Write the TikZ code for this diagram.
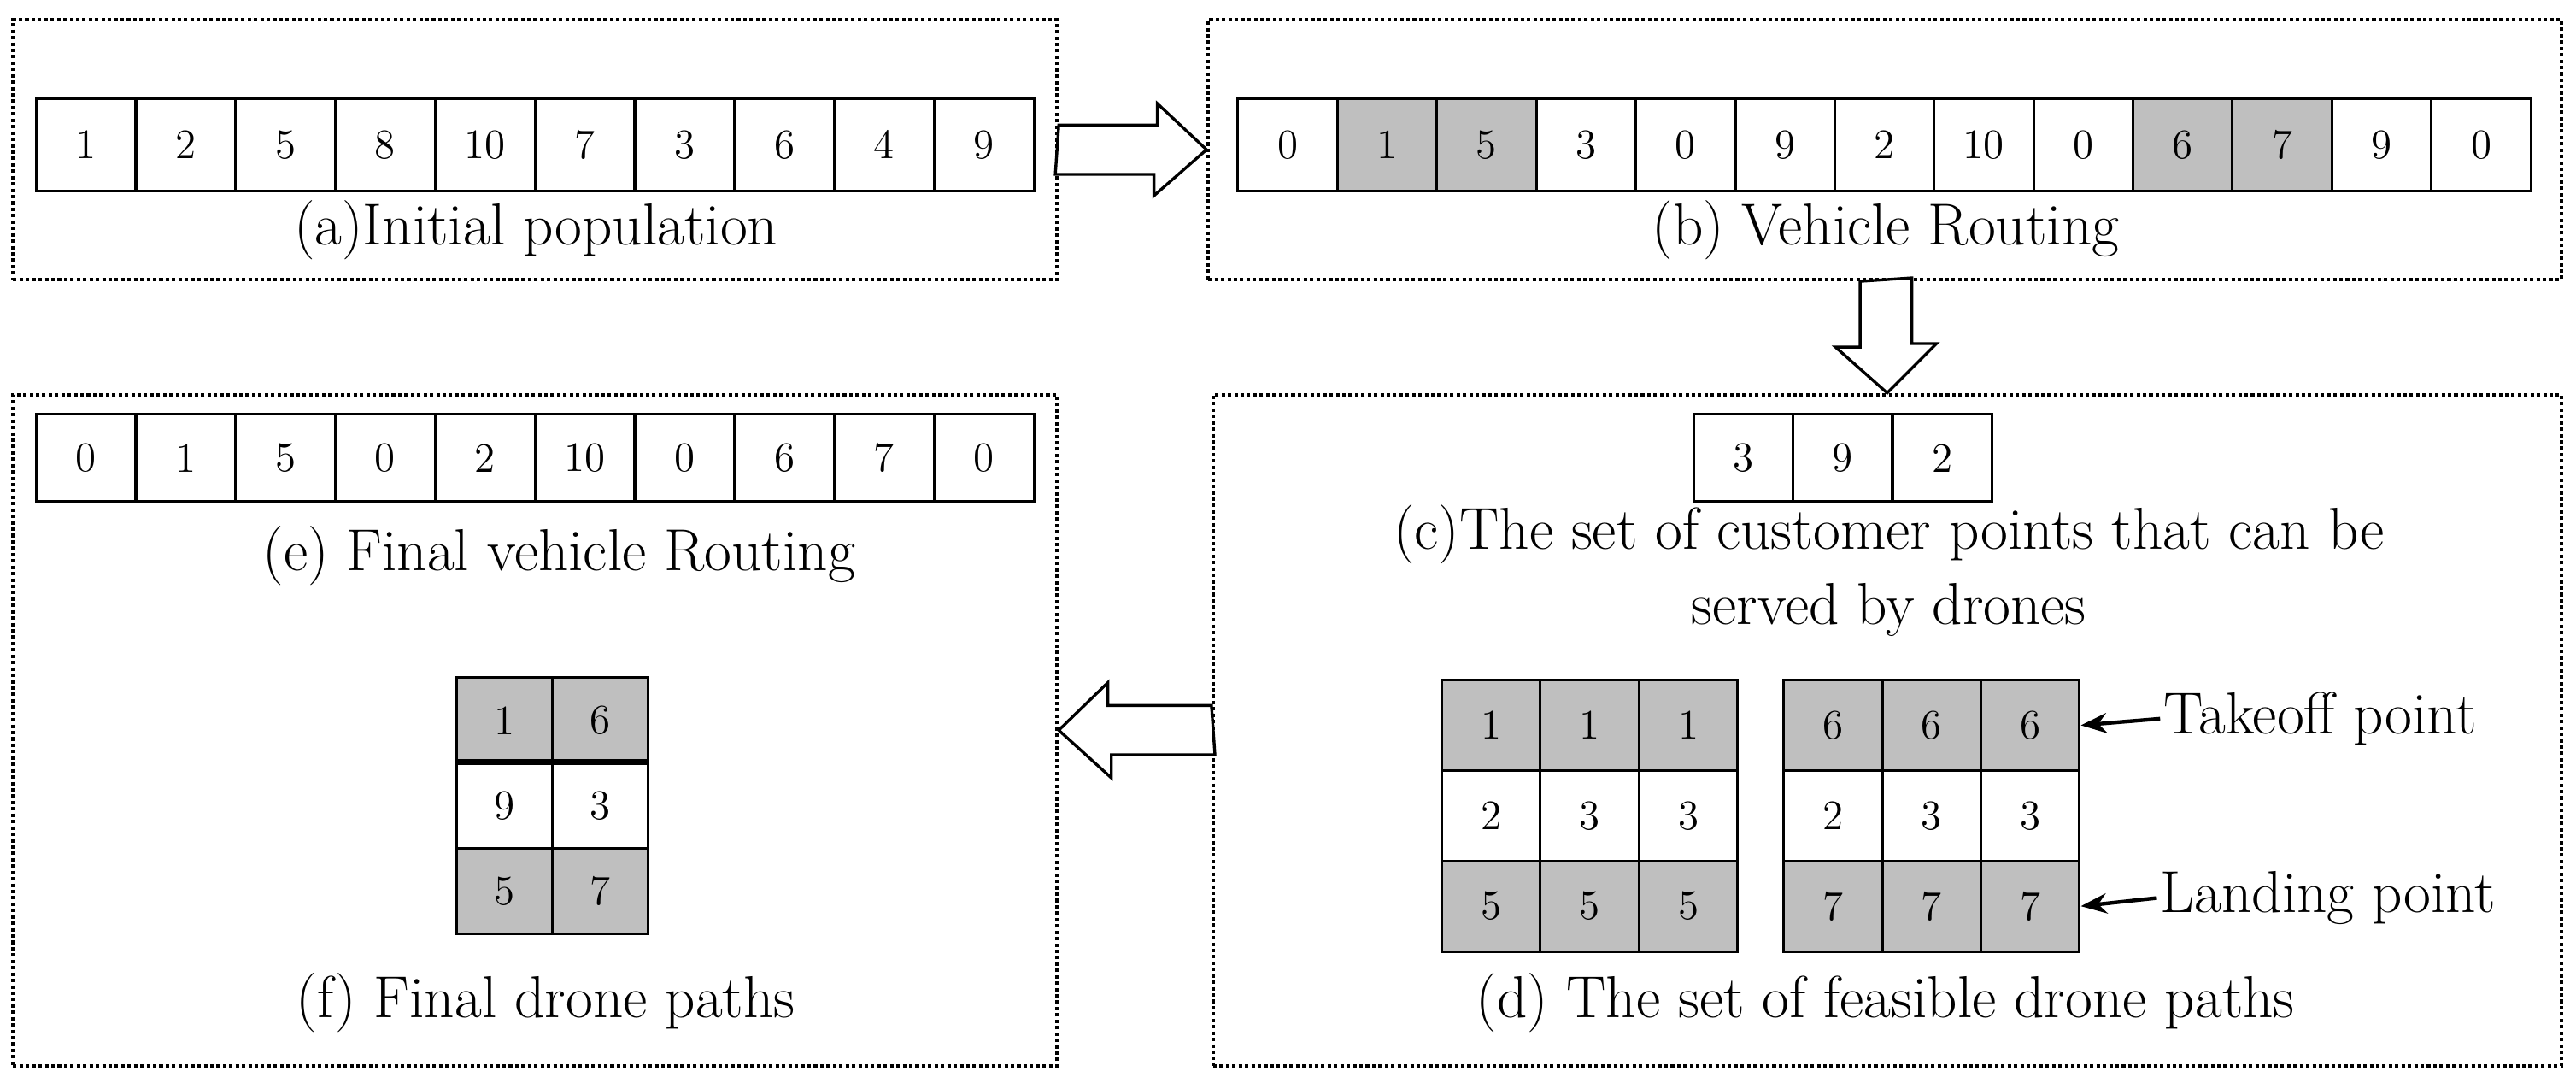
\documentclass[tikz,border=0pt]{standalone}
\usetikzlibrary{arrows.meta}
\begin{document}
\begin{tikzpicture}[x=0.02cm,y=-0.02cm,
  box/.style={draw,densely dotted,line width=1.2pt},
  cell/.style={draw,line width=0.9pt,minimum width=60.6*0.02cm,minimum height=56*0.02cm,inner sep=0pt,font=\fontsize{14.5}{16}\selectfont},
  g/.style={fill=black!25},
  lab/.style={font=\fontsize{20.5}{26}\selectfont,align=center},
  harrow/.style={draw,line width=1pt,fill=white}]
\useasboundingbox (0,0) rectangle (1567,658);
\node[box,minimum width=635*0.02cm,minimum height=158*0.02cm,inner sep=0pt] (A) at (325.5,91) {};
\node[box,minimum width=823*0.02cm,minimum height=158*0.02cm,inner sep=0pt] (B) at (1146.5,91) {};
\node[box,minimum width=820*0.02cm,minimum height=408*0.02cm,inner sep=0pt] (D) at (1148,444) {};
\node[box,minimum width=635*0.02cm,minimum height=408*0.02cm,inner sep=0pt] (E) at (325.5,444) {};
% (a)
\foreach \v [count=\i from 0] in {1,2,5,8,10,7,3,6,4,9}
  \node[cell] (a\i) at (52.3+60.7*\i,88) {\v};
\node[lab] (la) at (326,140) {(a)Initial population};
% (b)
\foreach \v/\s [count=\i from 0] in {0/,1/g,5/g,3/,0/,9/,2/,10/,0/,6/g,7/g,9/,0/}
  \node[cell,\s] (b\i) at (783.3+60.5*\i,88) {\v};
\node[lab] (lb) at (1147,140) {(b) Vehicle Routing};
% (c)
\foreach \v [count=\i from 0] in {3,9,2}
  \node[cell,minimum height=53*0.02cm] (c\i) at (1060.5+60.5*\i,278.5) {\v};
\node[lab] (lc) at (1149,347) {(c)The set of customer points that can be\\served by drones};
% (d)
\foreach \col [count=\j from 0] in {{1,2,5},{1,3,5},{1,3,5},{6,2,7},{6,3,7},{6,3,7}}{
  \foreach \v [count=\r from 0] in \col {
    \pgfmathsetmacro\xx{\j<3 ? 907+60*\j : 1115+60*(\j-3)}
    \ifnum\r=1 \def\st{}\else\def\st{g}\fi
    \node[cell,\st,minimum width=60*0.02cm,minimum height=55*0.02cm] (d\j\r) at (\xx,441+55*\r) {\v};
  }}
\node[lab,anchor=west,inner sep=1pt] (to) at (1314,437) {Takeoff point};
\node[lab,anchor=west,inner sep=1pt] (lp) at (1312,546) {Landing point};
\draw[-{Stealth[length=9pt,width=7pt]},line width=1.3pt] (to.west) -- (d50.east);
\draw[-{Stealth[length=9pt,width=7pt]},line width=1.3pt] (lp.west) -- (d52.east);
\node[lab] (ld) at (1147,610) {(d) The set of feasible drone paths};
% (e)
\foreach \v [count=\i from 0] in {0,1,5,0,2,10,0,6,7,0}
  \node[cell,minimum height=53*0.02cm] (e\i) at (52.3+60.7*\i,278.5) {\v};
\node[lab] (le) at (340,338) {(e) Final vehicle Routing};
% (f)
\foreach \col [count=\j from 0] in {{1,9,5},{6,3,7}}{
  \foreach \v [count=\r from 0] in \col {
    \ifnum\r=1 \def\st{}\else\def\st{g}\fi
    \node[cell,\st,minimum width=58*0.02cm,minimum height=52*0.02cm] (f\j\r) at (307+58*\j,438+52*\r) {\v};
  }}
\draw[line width=2pt] (f01.north west) -- (f11.north east);
\node[lab] (lf) at (332,610) {(f) Final drone paths};
% arrows
\draw[harrow] (A.east) ++(0,-15) -- ++(60,0) -- ++(0,-13) -- (B.west) -- ++(-32,28) -- ++(0,-13) -- ++(-60,0) -- cycle;
\draw[harrow] (B.south) ++(-15,0) -- ++(0,40) -- ++(-15,0) -- (D.north) -- ++(30,-30) -- ++(-15,0) -- ++(0,-40) -- cycle;
\draw[harrow] (D.west) ++(0,-15) -- ++(-63,0) -- ++(0,-14) -- (E.east) -- ++(32,29) -- ++(0,-14) -- ++(63,0) -- cycle;
\end{tikzpicture}
\end{document}
